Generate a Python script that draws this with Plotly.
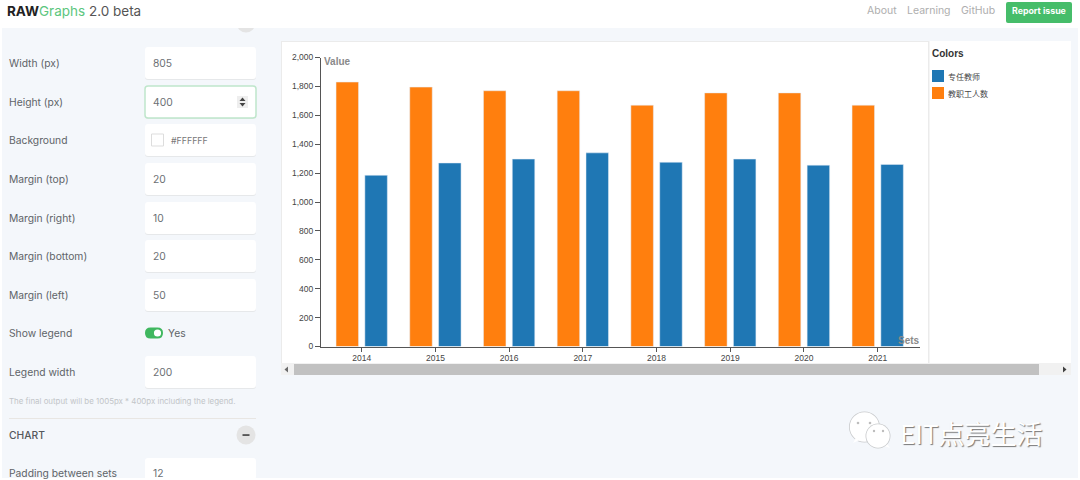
import plotly.graph_objects as go

# Chart data
years = ["2014", "2015", "2016", "2017", "2018", "2019", "2020", "2021"]
staff_total = [1830, 1795, 1770, 1770, 1670, 1755, 1755, 1670]
full_time = [1185, 1270, 1297, 1340, 1275, 1297, 1255, 1260]
name_total = "教职工人数"
name_full_time = "专任教师"
y_ticks = [0, 200, 400, 600, 800, 1000, 1200, 1400, 1600, 1800, 2000]

# Left hand options panel
option_labels = ["Width (px)", "Height (px)", "Background", "Margin (top)", "Margin (right)",
                 "Margin (bottom)", "Margin (left)", "Show legend", "Legend width"]
option_values = ["805", "400", "#FFFFFF", "20", "10", "20", "50", "Yes", "200"]
option_rows = [63, 102, 140, 179, 218, 256, 295, 333, 372]
nav_links = ["About", "Learning", "GitHub"]
nav_x = [867, 907, 961]

W, H = 1080, 480
ORANGE = "#ff7f0e"
BLUE = "#1f77b4"
GREEN = "#46bd6a"
PANEL = "#f4f7fb"
UI_FONT = "Inter"
CHART_FONT = "Liberation Sans, Noto Sans CJK SC"

shapes = []
annotations = []


def px(x):
    return x / W


def py(y):
    return 1 - y / H


def rect(x0, y0, x1, y1, fill, line=None, width=1):
    shapes.append(dict(type="rect", xref="paper", yref="paper", layer="below",
                       x0=px(x0), x1=px(x1), y0=py(y0), y1=py(y1), fillcolor=fill,
                       line=dict(color=line or fill, width=width if line else 0)))


def round_rect(x0, y0, x1, y1, r, fill, line=None, width=1):
    p = (f"M{px(x0 + r)},{py(y0)} L{px(x1 - r)},{py(y0)} Q{px(x1)},{py(y0)} {px(x1)},{py(y0 + r)} "
         f"L{px(x1)},{py(y1 - r)} Q{px(x1)},{py(y1)} {px(x1 - r)},{py(y1)} "
         f"L{px(x0 + r)},{py(y1)} Q{px(x0)},{py(y1)} {px(x0)},{py(y1 - r)} "
         f"L{px(x0)},{py(y0 + r)} Q{px(x0)},{py(y0)} {px(x0 + r)},{py(y0)} Z")
    shapes.append(dict(type="path", xref="paper", yref="paper", layer="below", path=p,
                       fillcolor=fill, line=dict(color=line or fill, width=width if line else 0)))


def circle(cx, cy, r, fill, layer="below"):
    shapes.append(dict(type="circle", xref="paper", yref="paper", layer=layer,
                       x0=px(cx - r), x1=px(cx + r), y0=py(cy - r), y1=py(cy + r),
                       fillcolor=fill, line=dict(width=0)))


def tri(points, fill):
    p = "M" + " L".join(f"{px(a)},{py(b)}" for a, b in points) + " Z"
    shapes.append(dict(type="path", xref="paper", yref="paper", layer="below", path=p,
                       fillcolor=fill, line=dict(width=0)))


def label(x, y, text, size=10.5, color="#666666", anchor="left", family=UI_FONT, **font_extra):
    annotations.append(dict(xref="paper", yref="paper", x=px(x), y=py(y), text=text, showarrow=False,
                            xanchor=anchor, yanchor="middle", borderpad=0, borderwidth=0,
                            font=dict(family=family, size=size, color=color, **font_extra)))


# Page background, header goes over the clipped circle
rect(2, 28, 1078, 478, PANEL)
circle(246, 23, 9.5, "#e4e4e4")
rect(0, 0, W, 28, "#ffffff")

label(7, 11, '<b style="color:#222222">RAW</b><span style="color:#5cc67e">Graphs</span> 2.0 beta',
      size=13.5, color="#555555")
for link, x in zip(nav_links, nav_x):
    label(x, 10.5, link, size=10.5, color="#aeaeae")
round_rect(1006, 2, 1072, 23, 2, GREEN)
label(1039, 10.5, "<b>Report issue</b>", size=8.8, color="#ffffff", anchor="center")

# Options panel
for text, value, y in zip(option_labels, option_values, option_rows):
    label(9, y, text, size=10.3, color="#606468")
    if text == "Show legend":
        round_rect(145, y - 5.5, 163, y + 5.5, 5.5, "#3fb75f")
        circle(157.5, y, 3.6, "#ffffff")
        label(168, y, value, size=10.3, color="#606468")
        continue
    # thin darker strip under the card works as its shadow
    round_rect(145, y - 15, 256, y + 17, 3, "#e6e8ea")
    if text == "Height (px)":
        round_rect(145, y - 16, 256, y + 16, 3, "#ffffff", line="#bfe6cb", width=1.5)
        rect(237, y - 6, 248, y + 6, "#eeeeee")
        tri([(239.5, y - 1), (245.5, y - 1), (242.5, y - 4.5)], "#444444")
        tri([(239.5, y + 1), (245.5, y + 1), (242.5, y + 4.5)], "#444444")
    else:
        round_rect(145, y - 16, 256, y + 16, 3, "#ffffff")
    if text == "Background":
        rect(151.5, y - 6, 163.5, y + 6, "#ffffff", line="#dddddd")
        label(170.5, y, value, size=8.8, color="#777777")
    else:
        label(153, y, value, size=10.3, color="#6c7074")

label(9, 400.5, "The final output will be 1005px * 400px including the legend.", size=7.9, color="#c2c5c8")
rect(9, 418, 256, 419, "#e8e6e3")
label(9, 435, "CHART", size=10.3, color="#55585c", weight=500)
circle(246, 435, 9.5, "#e4e4e4")
rect(242.5, 434.3, 249.5, 435.8, "#333333")
label(9, 473, "Padding between sets", size=10.3, color="#606468")
round_rect(145, 458, 256, 480, 3, "#ffffff")
label(153, 473, "12", size=10.3, color="#6c7074")

# Chart panel and scrollbar
rect(281, 41, 1071, 363, "#ffffff")
rect(281, 41, 929, 42, "#ebebeb")
rect(281, 41, 282, 363, "#ebebeb")
rect(928, 41, 929.5, 363, "#ebebeb")
rect(281, 363, 1071, 375, "#f1f1f1")
rect(294, 364, 1039, 375, "#c1c1c1")
tri([(284.5, 369.5), (288, 366.5), (288, 372.5)], "#6a6a6a")
tri([(1066.5, 369.5), (1063, 366.5), (1063, 372.5)], "#404040")

label(324, 61, "<b>Value</b>", size=10, color="#8a8a8a", family=CHART_FONT)
label(920, 340, "<b>Sets</b>", size=10, color="#8a8a8a", anchor="right", family=CHART_FONT)

# Colour legend
label(932, 53.5, "<b>Colors</b>", size=10, color="#333333", family=CHART_FONT)
for name, color, y in zip([name_full_time, name_total], [BLUE, ORANGE], [76, 93]):
    rect(932, y - 6, 944, y + 6, color)
    label(948, y + 1, name, size=8, color="#444444", family=CHART_FONT)

# WeChat mark bottom right
circle(864.5, 427, 15.5, "#c9cbcd")
tri([(857, 436), (853, 443), (864, 438)], "#ffffff")
circle(864.5, 427, 14.7, "#ffffff")
circle(858, 423, 1.3, "#bdbdbd")
circle(870, 423, 1.3, "#bdbdbd")
tri([(885, 441), (890, 448), (879, 444)], "#ffffff")
circle(878, 436, 12.5, "#c9cbcd")
circle(878, 436, 11.7, "#ffffff")
circle(874, 431, 1.2, "#bdbdbd")
circle(883, 431, 1.2, "#bdbdbd")
label(900, 432, "EIT点亮生活", size=26, color="#ffffff", family="Noto Sans CJK SC",
      shadow="1px 1px 1px #777777")

fig = go.Figure()
fig.add_trace(go.Bar(x=years, y=staff_total, name=name_total, marker=dict(color=ORANGE)))
fig.add_trace(go.Bar(x=years, y=full_time, name=name_full_time, marker=dict(color=BLUE)))

tick_style = dict(ticks="outside", tickwidth=1, tickcolor="#555555",
                  showline=True, linecolor="#555555", linewidth=1, showgrid=False, zeroline=False,
                  automargin=False,
                  tickfont=dict(family=CHART_FONT, size=8.5, color="#444444"))

fig.update_layout(
    width=W,
    height=H,
    margin=dict(l=0, r=0, t=0, b=0, pad=0, autoexpand=False),
    autosize=False,
    showlegend=False,
    paper_bgcolor="#ffffff",
    plot_bgcolor="rgba(0,0,0,0)",
    barmode="group",
    bargap=0.218,
    bargroupgap=0.22,
    shapes=shapes,
    annotations=annotations,
    xaxis=dict(domain=[px(321), px(920)], range=[-0.552, 7.574], type="category", ticklen=4,
               ticklabelstandoff=-1, tickmode="array", tickvals=years, ticktext=years, anchor="y",
               **tick_style),
    yaxis=dict(domain=[py(346.5), py(57.5)], range=[0, 2000], ticklen=5, tickmode="array",
               tickvals=y_ticks, tickformat=",", anchor="x", **tick_style),
)

# Plotly leaves the browser's default body margin, drop it so the page lines up with the screenshot
fig.write_html("out.html", config=dict(displayModeBar=False),
               post_script="document.body.style.margin='0';document.body.style.overflow='hidden';")
